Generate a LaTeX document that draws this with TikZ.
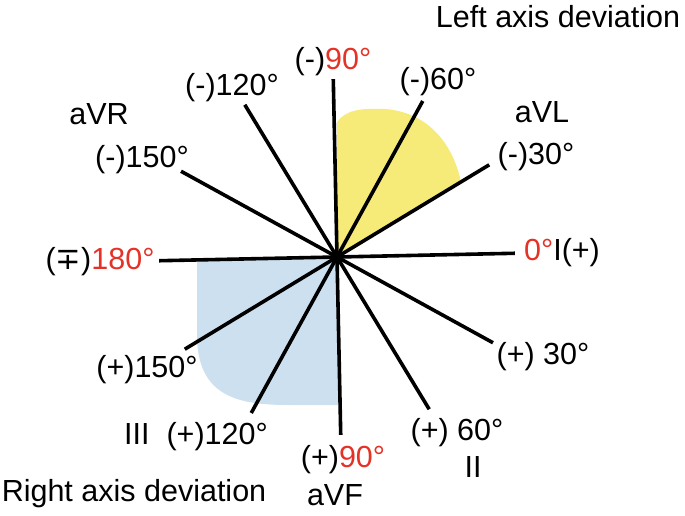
\documentclass[tikz,border=0pt]{standalone}
\usepackage{fontspec}
\usetikzlibrary{calc}
\setmainfont{Liberation Sans}
\newfontfamily\djv{DejaVu Sans}
\definecolor{degred}{RGB}{228,50,38}
\definecolor{yelfill}{RGB}{246,234,120}
\definecolor{bluefill}{RGB}{204,224,239}
\begin{document}
\begin{tikzpicture}[x=1pt,y=-1pt,
  axis/.style={line width=3.6pt,black},
  lbl/.style={font=\fontsize{30.5}{33}\selectfont, inner sep=0pt, anchor=center}]
\useasboundingbox (0,0) rectangle (685,516);
\coordinate (O) at (337,257);
% sectors
\fill[yelfill] (O) -- (337,122) .. controls (346,110) and (360,108) .. (385,109) .. controls (425,112) and (452,140) .. (461,182) -- cycle;
\fill[bluefill] (O) -- (197,260) -- (197,335) .. controls (197,398) and (240,405) .. (290,405) -- (340,405) -- cycle;
% axes
\foreach \a in {0,30,60,90,120,150,180,210,240,270,300,330}{
  \coordinate (e\a) at ($(O)+({178*cos(\a+1.2)},{-178*sin(\a+1.2)})$);
  \draw[axis] (O) -- (e\a);
}
\fill (O) circle (6.5pt);
% labels
\node[lbl] (lad) at (558,17) {Left axis deviation};
\node[lbl] (m90) at (333,62) {(-)\textcolor{degred}{90°}};
\node[lbl] (m60) at (438,82) {(-)60°};
\node[lbl] (m120) at (232,88) {(-)120°};
\node[lbl] (avr) at (99,114) {aVR};
\node[lbl] (avl) at (542,112) {aVL};
\node[lbl] (m150) at (142,160) {(-)150°};
\node[lbl] (m30) at (536,157) {(-)30°};
\node[lbl] (p180) at (100,262) {({\djv ∓})\textcolor{degred}{180°}};
\node[lbl] (p0) at (562,253) {\textcolor{degred}{0°}I(+)};
\node[lbl] (p30) at (543,357) {(+) 30°};
\node[lbl] (p150) at (147,370) {(+)150°};
\node[lbl] (p120) at (196,437) {III\ \ (+)120°};
\node[lbl] (p60) at (457,433) {(+) 60°};
\node[lbl] (ii) at (473,467) {II};
\node[lbl] (p90) at (343,460) {(+)\textcolor{degred}{90°}};
\node[lbl] (avf) at (335,495) {aVF};
\node[lbl] (rad) at (134,494) {Right axis deviation};
\end{tikzpicture}
\end{document}
